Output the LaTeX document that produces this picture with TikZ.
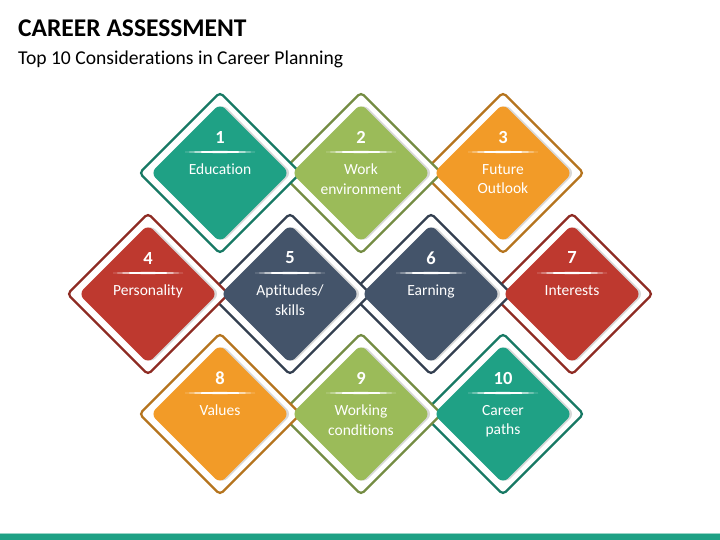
\documentclass[tikz,border=0pt]{standalone}
\usepackage{fontspec}
\setmainfont{Carlito}[Ligatures=NoCommon]
\usetikzlibrary{shapes.geometric,shadows}
\definecolor{cteal}{HTML}{1FA185}
\definecolor{cgreen}{HTML}{9BBB59}
\definecolor{corange}{HTML}{F29B28}
\definecolor{cred}{HTML}{BE392F}
\definecolor{cslate}{HTML}{44546A}

\begin{document}
\begin{tikzpicture}[x=1pt,y=-1pt,
  frame/.style={diamond,aspect=1,draw=#1!75!black,line width=2.3pt,fill=white,
    minimum size=162pt,inner sep=0pt,rounded corners=4pt},
  tile/.style={diamond,aspect=1,fill=#1,minimum size=139pt,inner sep=0pt,
    rounded corners=7pt,drop shadow={shadow xshift=2.5pt,shadow yshift=0pt,opacity=.3}},
  num/.style={text=white,font=\bfseries\fontsize{18.5}{20}\selectfont},
  lbl/.style={text=white,font=\fontsize{15.5}{19.5}\selectfont,align=center,
    anchor=north,inner sep=0pt}]
\useasboundingbox (0,0) rectangle (720,540);

\node[anchor=base west,inner sep=0pt,font=\bfseries\fontsize{25.5}{30}\selectfont] (title) at (18,37) {CAREER ASSESSMENT};
\node[anchor=base west,inner sep=0pt,font=\fontsize{19.6}{23}\selectfont] (sub) at (18,65) {Top 10 Considerations in Career Planning};

% right to left, so the left frame lies on top
\def\tiles{3/503/173/corange/{Future\\Outlook},
  2/361/173/cgreen/{Work\\environment},
  1/220/173/cteal/{Education},
  7/572/294/cred/{Interests},
  6/431/294/cslate/{Earning},
  5/290/294/cslate/{Aptitudes/\\skills},
  4/148/294/cred/{Personality},
  10/503/414/cteal/{Career\\paths},
  9/361/414/cgreen/{Working\\conditions},
  8/220/414/corange/{Values}}

\foreach \i/\x/\y/\c/\t in \tiles
  \node[frame=\c] (o\i) at (\x,\y) {};

\foreach \i/\x/\y/\c/\t in \tiles {
  \node[tile=\c] (d\i) at (\x,\y) {};
  \node[num] (n\i) at ([yshift=36pt]d\i.center) {\i};
  \fill[white,shift={(d\i)}] (-35,-21) .. controls (-12,-22.4) and (12,-22.4) .. (35,-21)
    .. controls (12,-19.6) and (-12,-19.6) .. cycle;
  \node[lbl] (l\i) at ([yshift=9pt]d\i.center) {\t};
}

\fill[cteal!45] (0,533) rectangle (720,534);
\fill[cteal] (0,534) rectangle (720,540);
\end{tikzpicture}
\end{document}
